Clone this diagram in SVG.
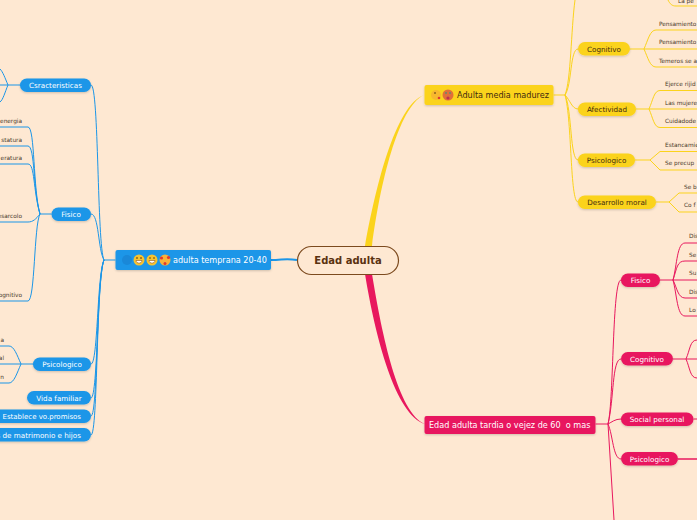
<svg xmlns="http://www.w3.org/2000/svg" width="697" height="520" viewBox="0 0 697 520">
<defs><filter id="s" x="-10%" y="-30%" width="120%" height="170%"><feDropShadow dx="0" dy="1" stdDeviation="1" flood-color="#000" flood-opacity=".18"/></filter></defs>
<style>
text{font-family:"DejaVu Sans",Verdana,sans-serif}
.b{fill:#1b96e8}.y{fill:#fbd31c}.p{fill:#e8185e}
.lb,.ly,.lp{fill:none;stroke-width:1}
.lb{stroke:#1b96e8}.ly{stroke:#fbd31c}.lp{stroke:#e8185e}
.w{fill:#fff;font-size:7.2px}.d{fill:#3f2a10;font-size:7.2px}
.t{font-size:5.8px;fill:#4a3a2c}
.m{font-size:8.1px}
.e{fill:#5a3a10}.o{fill:#fff;stroke:#7a3a10;stroke-width:.5}
</style>
<rect width="697" height="520" fill="#fee8d2"/>
<g id="connectors">
<path d="M297 260C285 258 283 260 271 260" fill="none" stroke="#1b96e8" stroke-width="2"/>
<path d="M365 246C375 190 395 105 424 95C398 107 380 185 372 246Z" class="y"/>
<path d="M365 274C375 335 395 415 425 424C398 413 382 335 372 274Z" class="p"/>
<g class="lb">
<path d="M115.500 260H104"/>
<path d="M104 260C97 245 99 85 91 85M104 260C98 250 99 214 91 214M104 260C97 275 98 364 91 364M104 260C97 275 98 398 91 398M104 260C96 280 98 416 91 416M104 260C96 280 98 435 91 435"/>
<path d="M20 85H0M8 85C5 78 3 72 0 69M8 85C5 92 3 100 0 102"/>
<path d="M51.500 214H40M40 214C33 190 35 127 28 127H0M40 214C33 190 35 146 28 146H0M40 214C33 190 35 164 28 164H0M40 214C36 219 33 222 28 222H0M40 214C34 225 35 301 28 301H0"/>
<path d="M33 364H0M21 364C17 355 14 346 9 346H0M21 364C17 373 14 383 9 383H0"/>
</g>
<g class="ly">
<path d="M553.500 95H565M565 95C571 80 571 30 575 0M565 95C572 85 570 49 578 49M565 95C570 100 572 109 578 109M565 95C572 110 570 160 578 160M565 95C572 120 570 202 578 202"/>
<path d="M630 49H644M644 49C648 40 650 30 656 30H697M644 49H697M644 49C648 58 650 67 656 67H697"/>
<path d="M636 109H649M649 109C653 100 654 90.500 660 90.500H697M649 109H697M649 109C653 118 654 127.500 660 127.500H697"/>
<path d="M635 160H650M650 160L660 151.500H697M650 160L660 170H697"/>
<path d="M656 202H669M669 202L679 193H697M669 202L679 212H697"/>
<path d="M668 0C670 4 672 6 676 6H697"/>
</g>
<g class="lp">
<path d="M595.500 424H608M608 424C614 400 612 280 621 280M608 424C614 400 612 359 621 359M608 424C612 422 615 419 621 419M608 424C613 435 613 459 621 459M608 424L614 520"/>
<path d="M660 280H673M673 280C677 265 677 243 685 243H697M673 280C677 268 677 261 685 261H697M673 280H697M673 280C677 288 678 298 685 298H697M673 280C677 295 677 316 685 316H697"/>
<path d="M673 359H686M686 359C690 350 690 340 697 340M686 359H697M686 359C690 368 690 378 697 378"/>
<path d="M693.500 419H697"/>
<path d="M678 459H697" stroke-width="1.500"/>
</g>
</g>
<g id="center"><rect x="297.500" y="246.500" width="101" height="28" rx="14" fill="#fee8d2" stroke="#7c4a1e" stroke-width="1.200"/><text x="348" y="264" text-anchor="middle" font-size="10" font-weight="700" fill="#5a3210">Edad adulta</text></g>
<g id="temprana"><rect class="b" x="115.500" y="250" width="155.500" height="20" rx="2" filter="url(#s)"/><circle cx="127" cy="260" r="5" fill="#1a88d8"/><circle cx="139" cy="260" r="5.500" fill="#f7c331"/><rect class="e" x="136" y="257.500" width="2" height="1"/><rect class="e" x="140" y="257.500" width="2" height="1"/><path class="o" d="M136 260.500H142C141.500 264 136.500 264 136 260.500Z"/><circle cx="152" cy="260" r="5.500" fill="#f7c331"/><circle class="e" cx="150" cy="258" r=".8"/><circle class="e" cx="154" cy="258" r=".8"/><path class="o" d="M149 260.500H155C154.500 264 149.500 264 149 260.500Z"/><circle cx="165" cy="260" r="5.500" fill="#f7b23a"/><circle cx="161.500" cy="258" r="1.600" fill="#e0392f"/><circle cx="168.500" cy="257.500" r="1.600" fill="#e0392f"/><circle cx="165" cy="263.500" r="1.500" fill="#e0392f"/><text class="w m" x="173" y="263">adulta temprana 20-40</text></g>
<g id="caracteristicas"><rect class="b" x="20" y="78.500" width="71" height="13.500" rx="6.750" filter="url(#s)"/><text class="w" x="55.500" y="88" text-anchor="middle">Csracteristicas</text></g>
<g id="fisico-b"><rect class="b" x="51.500" y="207.500" width="39.500" height="13.500" rx="6.750" filter="url(#s)"/><text class="w" x="71" y="217" text-anchor="middle">Fisico</text></g>
<g id="psico-b"><rect class="b" x="33" y="357.500" width="58" height="13.500" rx="6.750" filter="url(#s)"/><text class="w" x="62" y="367" text-anchor="middle">Psicologico</text></g>
<g id="vida"><rect class="b" x="27" y="391" width="64" height="13.500" rx="6.750" filter="url(#s)"/><text class="w" x="59" y="400.500" text-anchor="middle">Vida familiar</text></g>
<g id="establece"><rect class="b" x="-10" y="409.500" width="101" height="13.500" rx="6.750" filter="url(#s)"/><text class="w" x="81" y="419" text-anchor="end" style="font-size:7px">Establece vo.promisos</text></g>
<g id="matrimonio"><rect class="b" x="-10" y="428" width="101" height="13.500" rx="6.750" filter="url(#s)"/><text class="w" x="81" y="437.500" text-anchor="end">s de matrimonio e hijos</text></g>
<g id="leaves-b">
<text class="t" x="22" y="123" text-anchor="end">energia</text><text class="t" x="22" y="142" text-anchor="end">statura</text><text class="t" x="22" y="160" text-anchor="end">eratura</text><text class="t" x="22" y="218" text-anchor="end">esarcolo</text><text class="t" x="22" y="297" text-anchor="end">ognitivo</text><text class="t" x="4" y="342" text-anchor="end">a</text><text class="t" x="4" y="360" text-anchor="end">al</text><text class="t" x="4" y="379" text-anchor="end">n</text>
</g>
<g id="media"><rect class="y" x="424.500" y="85" width="129" height="20" rx="2" filter="url(#s)"/><circle cx="436" cy="95" r="5" fill="#f7b82e"/><rect class="e" x="434" y="92.500" width="2" height="1"/><circle cx="439" cy="98" r="1.300" fill="#e0392f"/><circle cx="448" cy="95" r="5.500" fill="#e0703a"/><circle cx="446" cy="93" r="1" fill="#6a8a6a"/><circle cx="450" cy="93" r="1" fill="#6a8a6a"/><circle cx="448" cy="98" r="1.600" fill="#c03050"/><text class="m" x="457" y="98" fill="#3f2a10">Adulta media madurez</text></g>
<g id="cog-y"><rect class="y" x="578" y="42" width="52" height="13.500" rx="6.750" filter="url(#s)"/><text class="d" x="604" y="52" text-anchor="middle">Cognitivo</text></g>
<g id="afe-y"><rect class="y" x="578" y="102.500" width="58" height="13.500" rx="6.750" filter="url(#s)"/><text class="d" x="607" y="112" text-anchor="middle">Afectividad</text></g>
<g id="psi-y"><rect class="y" x="578" y="153.500" width="57" height="13.500" rx="6.750" filter="url(#s)"/><text class="d" x="606.500" y="163" text-anchor="middle">Psicologico</text></g>
<g id="des-y"><rect class="y" x="578" y="195.500" width="78" height="13.500" rx="6.750" filter="url(#s)"/><text class="d" x="617" y="205" text-anchor="middle">Desarrollo moral</text></g>
<g id="leaves-y">
<text class="t" x="678" y="3">La pe</text>
<text class="t" x="659" y="26">Pensamiento</text><text class="t" x="659" y="44">Pensamiento</text><text class="t" x="659" y="63">Temeros se a</text>
<text class="t" x="665" y="86">Ejerce rijid</text><text class="t" x="665" y="105">Las mujere</text><text class="t" x="665" y="123">Cuidadode</text>
<text class="t" x="665" y="147">Estancamie</text><text class="t" x="665" y="165">Se precup</text>
<text class="t" x="684" y="189">Se b</text><text class="t" x="684" y="207">Co f</text>
</g>
<g id="tardia"><rect class="p" x="424.500" y="416" width="171" height="18" rx="2" filter="url(#s)"/><text class="w m" x="429" y="428" xml:space="preserve">Edad adulta tardia o vejez de 60  o mas</text></g>
<g id="fis-p"><rect class="p" x="621" y="273.500" width="39" height="13.500" rx="6.750" filter="url(#s)"/><text class="w" x="640.500" y="283" text-anchor="middle">Fisico</text></g>
<g id="cog-p"><rect class="p" x="621" y="352" width="52" height="13.500" rx="6.750" filter="url(#s)"/><text class="w" x="647" y="361.500" text-anchor="middle">Cognitivo</text></g>
<g id="soc-p"><rect class="p" x="621" y="412.500" width="72.500" height="13.500" rx="6.750" filter="url(#s)"/><text class="w" x="657" y="422" text-anchor="middle">Social personal</text></g>
<g id="psi-p"><rect class="p" x="621" y="452" width="57" height="13.500" rx="6.750" filter="url(#s)"/><text class="w" x="649.500" y="461.500" text-anchor="middle">Psicologico</text></g>
<g id="leaves-p">
<text class="t" x="689" y="238">Dis</text><text class="t" x="689" y="257">Se</text><text class="t" x="689" y="275">Su</text><text class="t" x="689" y="294">Dis</text><text class="t" x="689" y="312">Lo</text>
</g>
</svg>
